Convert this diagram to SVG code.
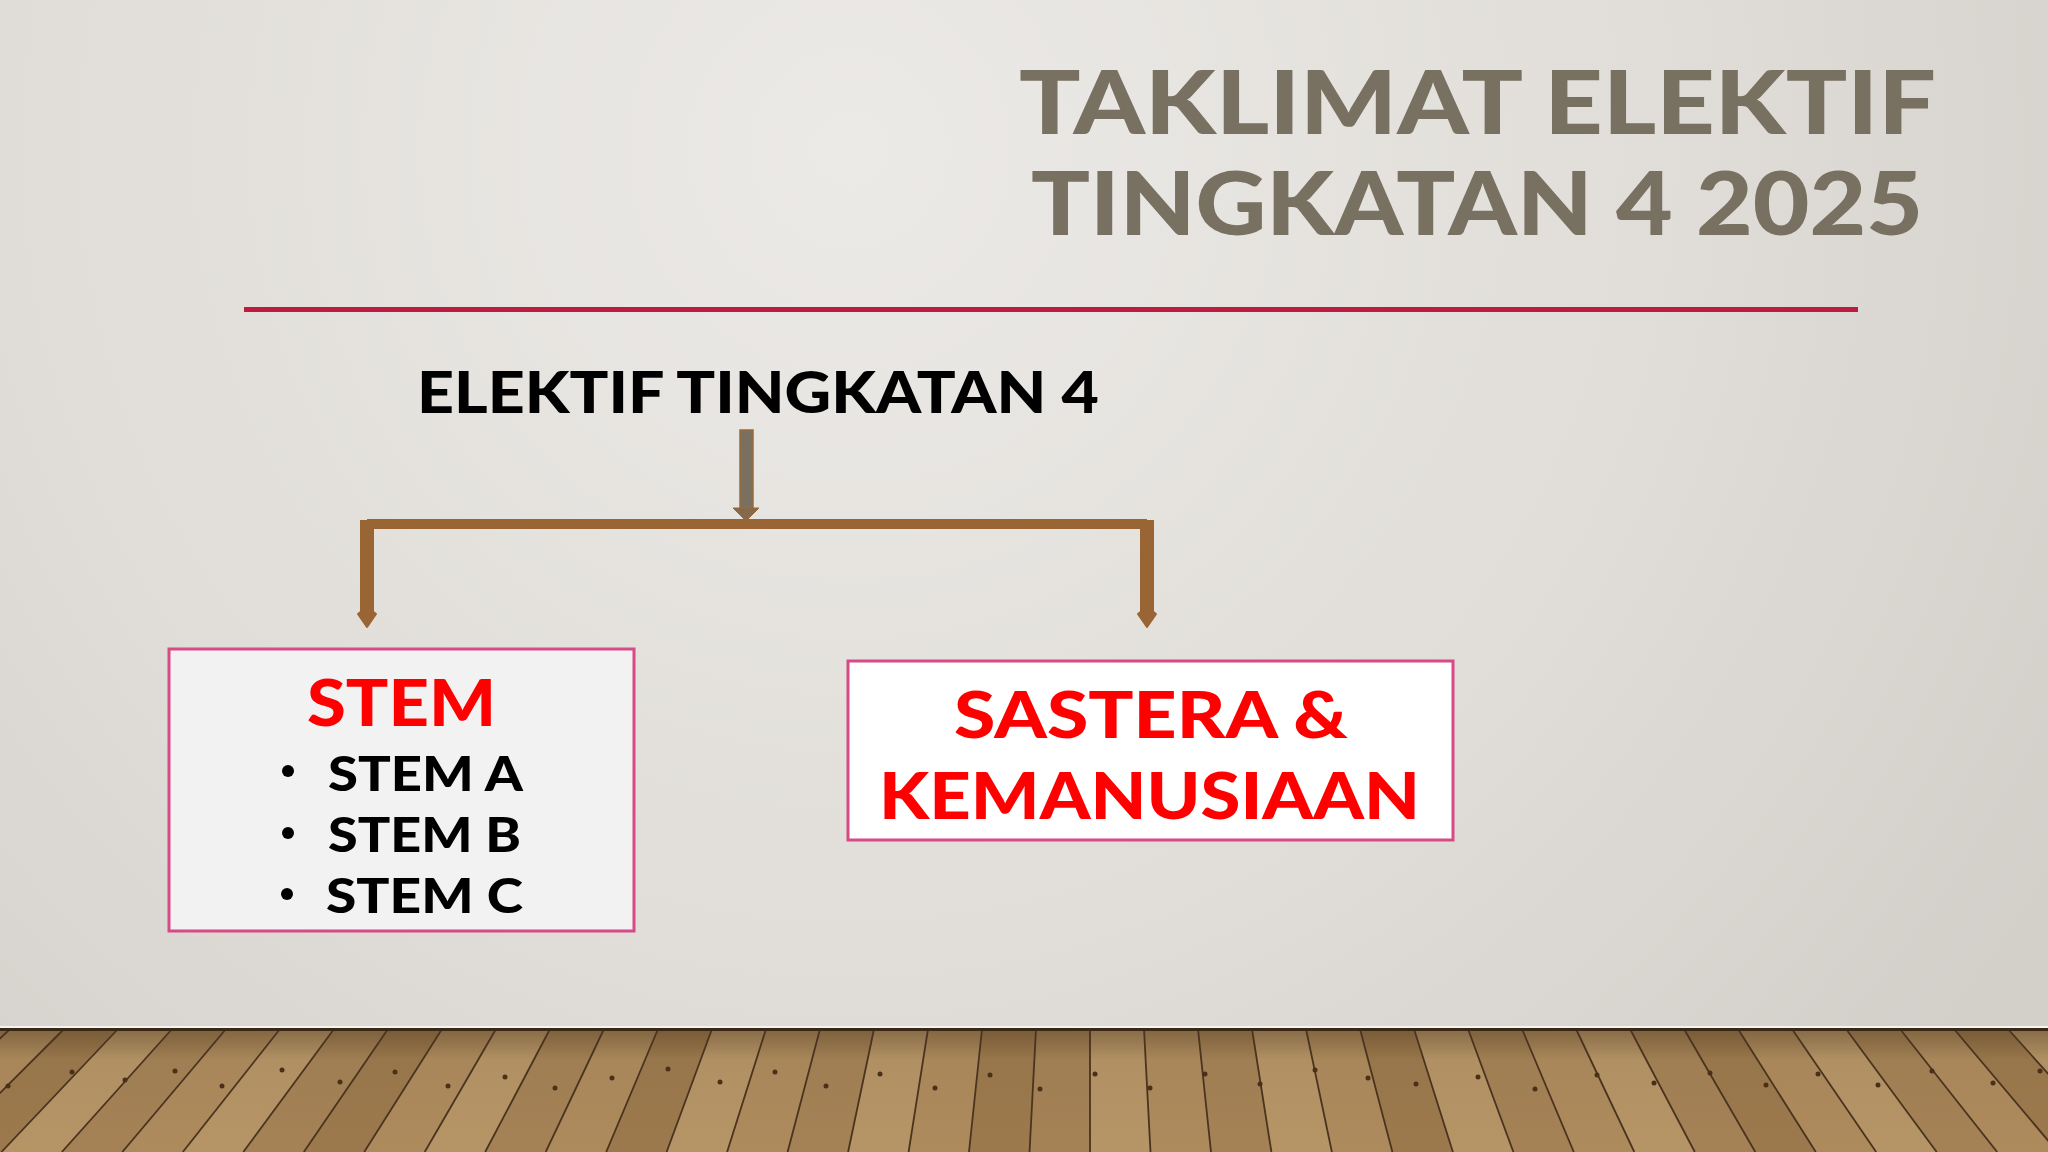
<svg xmlns="http://www.w3.org/2000/svg" width="2048" height="1152" viewBox="0 0 2048 1152">
<defs>
<radialGradient id="bg" cx="850" cy="150" r="1400" gradientUnits="userSpaceOnUse">
<stop offset="0" stop-color="#eceae7"/>
<stop offset="0.6" stop-color="#e0ddd8"/>
<stop offset="1" stop-color="#d3d0ca"/>
</radialGradient>
<linearGradient id="floorShade" x1="0" y1="1029" x2="0" y2="1152" gradientUnits="userSpaceOnUse">
<stop offset="0" stop-color="#3a2612" stop-opacity="0.4"/>
<stop offset="0.25" stop-color="#3a2612" stop-opacity="0.08"/>
<stop offset="1" stop-color="#3a2612" stop-opacity="0.04"/>
</linearGradient>
<style>
.title{font-family:Lato,"Liberation Sans",sans-serif;font-weight:900;font-size:88px;fill:#787060}
.head{font-family:Lato,"Liberation Sans",sans-serif;font-weight:900;font-size:57px;fill:#000}
.red{font-family:Lato,"Liberation Sans",sans-serif;font-weight:900;font-size:65px;fill:#ff0000}
.item{font-family:Lato,"Liberation Sans",sans-serif;font-weight:900;font-size:48px;fill:#000}
.box{stroke:#d64b86;stroke-width:3}
.t1{fill:#b28f60}.t2{fill:#a98659}.t3{fill:#bb996a}.t4{fill:#a07d50}
.brk{fill:none;stroke:#9a6534;stroke-linejoin:round}
.nail{fill:#4a3018}
</style>
</defs>
<rect x="0" y="0" width="2048" height="1152" fill="url(#bg)"/>

<g id="floor">
<polygon class="t2" points="-44,1029 10,1029 -119.6,1152 -180,1152"/>
<polygon class="t1" points="10,1029 64,1029 -59.1,1152 -119.6,1152"/>
<polygon class="t4" points="64,1029 118,1029 1.4,1152 -59.1,1152"/>
<polygon class="t3" points="118,1029 172,1029 61.8,1152 1.4,1152"/>
<polygon class="t2" points="172,1029 226,1029 122.3,1152 61.8,1152"/>
<polygon class="t1" points="226,1029 280,1029 182.8,1152 122.3,1152"/>
<polygon class="t3" points="280,1029 334,1029 243.3,1152 182.8,1152"/>
<polygon class="t2" points="334,1029 388,1029 303.8,1152 243.3,1152"/>
<polygon class="t4" points="388,1029 442,1029 364.2,1152 303.8,1152"/>
<polygon class="t1" points="442,1029 496,1029 424.7,1152 364.2,1152"/>
<polygon class="t3" points="496,1029 550,1029 485.2,1152 424.7,1152"/>
<polygon class="t2" points="550,1029 604,1029 545.7,1152 485.2,1152"/>
<polygon class="t1" points="604,1029 658,1029 606.2,1152 545.7,1152"/>
<polygon class="t4" points="658,1029 712,1029 666.6,1152 606.2,1152"/>
<polygon class="t3" points="712,1029 766,1029 727.1,1152 666.6,1152"/>
<polygon class="t1" points="766,1029 820,1029 787.6,1152 727.1,1152"/>
<polygon class="t2" points="820,1029 874,1029 848.1,1152 787.6,1152"/>
<polygon class="t3" points="874,1029 928,1029 908.6,1152 848.1,1152"/>
<polygon class="t1" points="928,1029 982,1029 969,1152 908.6,1152"/>
<polygon class="t4" points="982,1029 1036,1029 1029.5,1152 969,1152"/>
<polygon class="t2" points="1036,1029 1090,1029 1090,1152 1029.5,1152"/>
<polygon class="t3" points="1090,1029 1144,1029 1150.5,1152 1090,1152"/>
<polygon class="t1" points="1144,1029 1198,1029 1211,1152 1150.5,1152"/>
<polygon class="t2" points="1198,1029 1252,1029 1271.4,1152 1211,1152"/>
<polygon class="t3" points="1252,1029 1306,1029 1331.9,1152 1271.4,1152"/>
<polygon class="t1" points="1306,1029 1360,1029 1392.4,1152 1331.9,1152"/>
<polygon class="t4" points="1360,1029 1414,1029 1452.9,1152 1392.4,1152"/>
<polygon class="t3" points="1414,1029 1468,1029 1513.4,1152 1452.9,1152"/>
<polygon class="t2" points="1468,1029 1522,1029 1573.8,1152 1513.4,1152"/>
<polygon class="t1" points="1522,1029 1576,1029 1634.3,1152 1573.8,1152"/>
<polygon class="t3" points="1576,1029 1630,1029 1694.8,1152 1634.3,1152"/>
<polygon class="t2" points="1630,1029 1684,1029 1755.3,1152 1694.8,1152"/>
<polygon class="t4" points="1684,1029 1738,1029 1815.8,1152 1755.3,1152"/>
<polygon class="t1" points="1738,1029 1792,1029 1876.2,1152 1815.8,1152"/>
<polygon class="t3" points="1792,1029 1846,1029 1936.7,1152 1876.2,1152"/>
<polygon class="t2" points="1846,1029 1900,1029 1997.2,1152 1936.7,1152"/>
<polygon class="t1" points="1900,1029 1954,1029 2057.7,1152 1997.2,1152"/>
<polygon class="t4" points="1954,1029 2008,1029 2118.2,1152 2057.7,1152"/>
<polygon class="t3" points="2008,1029 2062,1029 2178.6,1152 2118.2,1152"/>
<rect x="0" y="1029" width="2048" height="123" fill="url(#floorShade)"/>
<path fill="none" stroke="#4a3420" stroke-width="1.8" d="M10,1029L-119.6,1152M64,1029L-59.1,1152M118,1029L1.4,1152M172,1029L61.8,1152M226,1029L122.3,1152M280,1029L182.8,1152M334,1029L243.3,1152M388,1029L303.8,1152M442,1029L364.2,1152M496,1029L424.7,1152M550,1029L485.2,1152M604,1029L545.7,1152M658,1029L606.2,1152M712,1029L666.6,1152M766,1029L727.1,1152M820,1029L787.6,1152M874,1029L848.1,1152M928,1029L908.6,1152M982,1029L969,1152M1036,1029L1029.5,1152M1090,1029L1090,1152M1144,1029L1150.5,1152M1198,1029L1211,1152M1252,1029L1271.4,1152M1306,1029L1331.9,1152M1360,1029L1392.4,1152M1414,1029L1452.9,1152M1468,1029L1513.4,1152M1522,1029L1573.8,1152M1576,1029L1634.3,1152M1630,1029L1694.8,1152M1684,1029L1755.3,1152M1738,1029L1815.8,1152M1792,1029L1876.2,1152M1846,1029L1936.7,1152M1900,1029L1997.2,1152M1954,1029L2057.7,1152M2008,1029L2118.2,1152"/>
<g class="nail">
<circle cx="8" cy="1086" r="2.5"/><circle cx="72" cy="1072" r="2.5"/><circle cx="125" cy="1080" r="2.5"/><circle cx="175" cy="1071" r="2.5"/><circle cx="222" cy="1086" r="2.5"/><circle cx="282" cy="1070" r="2.5"/><circle cx="340" cy="1082" r="2.5"/><circle cx="395" cy="1072" r="2.5"/><circle cx="448" cy="1086" r="2.5"/><circle cx="505" cy="1077" r="2.5"/><circle cx="555" cy="1088" r="2.5"/><circle cx="612" cy="1078" r="2.5"/><circle cx="668" cy="1069" r="2.5"/><circle cx="720" cy="1082" r="2.5"/><circle cx="775" cy="1072" r="2.5"/><circle cx="826" cy="1086" r="2.5"/><circle cx="880" cy="1074" r="2.5"/><circle cx="935" cy="1088" r="2.5"/><circle cx="990" cy="1075" r="2.5"/><circle cx="1040" cy="1089" r="2.5"/><circle cx="1095" cy="1074" r="2.5"/><circle cx="1150" cy="1088" r="2.5"/><circle cx="1205" cy="1074" r="2.5"/><circle cx="1260" cy="1084" r="2.5"/><circle cx="1315" cy="1070" r="2.5"/><circle cx="1368" cy="1078" r="2.5"/><circle cx="1416" cy="1084" r="2.5"/><circle cx="1478" cy="1077" r="2.5"/><circle cx="1535" cy="1089" r="2.5"/><circle cx="1597" cy="1075" r="2.5"/><circle cx="1654" cy="1083" r="2.5"/><circle cx="1710" cy="1073" r="2.5"/><circle cx="1766" cy="1085" r="2.5"/><circle cx="1818" cy="1074" r="2.5"/><circle cx="1878" cy="1085" r="2.5"/><circle cx="1932" cy="1071" r="2.5"/><circle cx="1993" cy="1083" r="2.5"/><circle cx="2040" cy="1071" r="2.5"/>
</g>
<rect x="0" y="1026" width="2048" height="2" fill="#f6f4f0"/>
<rect x="0" y="1028" width="2048" height="3" fill="#3a2816"/>
</g>

<g id="title">
<text class="title" x="1019" y="134" textLength="917" lengthAdjust="spacingAndGlyphs">TAKLIMAT ELEKTIF</text>
<text class="title" x="1031" y="235" textLength="892" lengthAdjust="spacingAndGlyphs">TINGKATAN 4 2025</text>
<rect x="244" y="307" width="1614" height="5" fill="#bf1a42"/>
</g>

<g id="root">
<text class="head" x="417" y="413" textLength="682" lengthAdjust="spacingAndGlyphs">ELEKTIF TINGKATAN 4</text>
</g>

<g id="connectors">
<rect x="740" y="430" width="13" height="79" fill="#7a7060" stroke="#9a6a3a" stroke-width="1.5"/>
<polygon points="733,508 759,508 746,521" fill="#86684a" stroke="#9a6a3a" stroke-width="1"/>
<path class="brk" stroke-width="10" d="M367,524 H1147"/>
<path class="brk" stroke-width="14" d="M367,520 V612"/>
<path class="brk" stroke-width="14" d="M1147,520 V612"/>
<path d="M358,614 L367,607 L376,614 L367,627 Z" fill="#9a6534" stroke="#9a6534" stroke-width="2" stroke-linejoin="round"/>
<path d="M1138,614 L1147,607 L1156,614 L1147,627 Z" fill="#9a6534" stroke="#9a6534" stroke-width="2" stroke-linejoin="round"/>
</g>

<g id="stem">
<rect class="box" x="169" y="649" width="465" height="282" fill="#f2f2f2"/>
<text class="red" x="307" y="726" textLength="189" lengthAdjust="spacingAndGlyphs">STEM</text>
<circle cx="288" cy="771" r="6" fill="#000"/>
<circle cx="288" cy="833" r="6" fill="#000"/>
<circle cx="287" cy="894" r="6" fill="#000"/>
<text class="item" x="328" y="791" textLength="195" lengthAdjust="spacingAndGlyphs">STEM A</text>
<text class="item" x="328" y="852" textLength="193" lengthAdjust="spacingAndGlyphs">STEM B</text>
<text class="item" x="326" y="913" textLength="197" lengthAdjust="spacingAndGlyphs">STEM C</text>
</g>

<g id="sastera">
<rect class="box" x="848" y="661" width="605" height="179" fill="#ffffff"/>
<text class="red" x="954" y="738" textLength="394" lengthAdjust="spacingAndGlyphs">SASTERA &amp;</text>
<text class="red" x="879" y="819" textLength="541" lengthAdjust="spacingAndGlyphs">KEMANUSIAAN</text>
</g>
</svg>
